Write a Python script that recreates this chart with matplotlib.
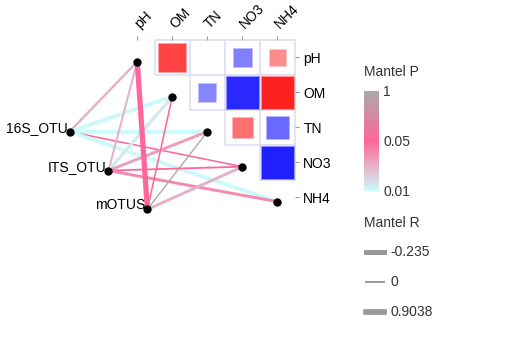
# -*- coding: utf-8 -*-
# Mantel test network + env. correlation heatmap

import numpy as np
import matplotlib as mpl
import matplotlib.pyplot as plt
from matplotlib.colors import LinearSegmentedColormap, TwoSlopeNorm, Normalize, to_rgb
from matplotlib.patches import Rectangle
from matplotlib.lines import Line2D

plt.rcParams['font.family'] = ['Liberation Sans', 'DejaVu Sans']

# données
nan = np.nan
env = ['pH', 'OM', 'TN', 'NO3', 'NH4']
species = ['16S_OTU', 'ITS_OTU', 'mOTUS']

# correlation between env factors (upper triangle)
env_r = np.array([
    [nan, 0.73, 0.02, -0.50, 0.45],
    [nan, nan, -0.47, -0.84, 0.87],
    [nan, nan, nan, 0.56, -0.58],
    [nan, nan, nan, nan, -0.87],
    [nan, nan, nan, nan, nan],
])

# Mantel R / P, rows = species, cols = env
mantel_r = np.array([
    [0.30, 0.60, 0.70, 0.10, 0.60],
    [0.20, 0.45, 0.40, 0.15, 0.40],
    [0.9038, 0.10, 0.05, 0.40, nan],
])
mantel_p = np.array([
    [0.03, 0.01, 0.01, 0.05, 0.01],
    [0.03, 0.015, 0.035, 0.05, 0.04],
    [0.05, 0.05, 0.9, 0.03, nan],
])

p_ticks = [0.01, 0.05, 1]
p_labels = ['0.01', '0.05', '1']
r_legend = ['-0.235', '0', '0.9038']

W, H = 520, 353
fig = plt.figure(figsize=(W / 100, H / 100), dpi=100)
ax = fig.add_axes([0, 0, 295 / W, (H - 40) / H])
ax.set_xlim(-3.914, 4.5)
ax.set_ylim(8.443, -0.5)
for s in ax.spines.values():
    s.set_visible(False)

# heatmap
r_cmap = plt.get_cmap('bwr')
r_norm = Normalize(-1, 1)
n = len(env)
for i in range(n):
    for j in range(i + 1, n):
        ax.add_patch(Rectangle((j - 0.5, i - 0.5), 1, 1, fc='white',
                               ec='#dcdcf8', lw=1.1, zorder=1, clip_on=False))
        r = env_r[i, j]
        side = min(0.96, abs(r) * 1.1)
        c = np.array(to_rgb(r_cmap(r_norm(r))))
        ax.add_patch(Rectangle((j - side / 2, i - side / 2), side, side,
                               fc=c, ec=(c + 1) / 2, lw=0.7, zorder=2))

# node layout
env_x = np.arange(n)
env_y = np.arange(n) + 0.12
k = np.arange(len(species))
sp_x = -1.93 + 1.11 * k
sp_y = 2.12 + 1.11 * k

# mantel edges
p_cmap = LinearSegmentedColormap.from_list('mantel_p', ['#ccfafa', '#ff6699', '#aaaaaa'])
p_norm = TwoSlopeNorm(vcenter=0.05, vmin=0.01, vmax=1)
for a in range(len(species)):
    for b in range(n):
        if np.isnan(mantel_r[a, b]):
            continue
        ax.plot([sp_x[a], env_x[b]], [sp_y[a], env_y[b]],
                color=p_cmap(p_norm(mantel_p[a, b])),
                lw=0.8 + 3.3 * abs(mantel_r[a, b]),
                solid_capstyle='butt', zorder=3)

ax.plot(env_x, env_y, 'o', color='black', ms=5, zorder=5)
ax.plot(sp_x, sp_y, 'o', color='black', ms=5, zorder=5)
for a, name in enumerate(species):
    ax.annotate(name, (sp_x[a], sp_y[a]), xytext=(-1.5, 0),
                textcoords='offset points', ha='right', va='baseline',
                fontsize=10, color='black')

# axis labels
ax.xaxis.tick_top()
ax.set_xticks(range(n))
ax.set_xticklabels(env, rotation=45, ha='left', va='center',
                   rotation_mode='anchor')
ax.yaxis.tick_right()
ax.set_yticks(range(n))
ax.set_yticklabels(env)
ax.tick_params(length=3, width=0.8, color='#999999', labelsize=10, pad=3)
ax.tick_params(axis='x', pad=7)

# Mantel P legend
fig.text(364 / W, 1 - 72 / H, 'Mantel P', fontsize=10, color='#333333', va='center')
cax = fig.add_axes([364 / W, (H - 191) / H, 15 / W, 100 / H])
cb = fig.colorbar(mpl.cm.ScalarMappable(norm=p_norm, cmap=p_cmap), cax=cax, ticks=p_ticks)
cb.set_ticklabels(p_labels)
cb.outline.set_visible(False)
cax.tick_params(length=0, pad=3, labelsize=10, labelcolor='#333333')

# Mantel R legend
handles = [Line2D([], [], color='#999999', lw=w) for w in [3.6, 1.4, 4.1]]
leg = fig.legend(handles, r_legend, title='Mantel R', loc='upper left',
                 bbox_to_anchor=(353 / W, 1 - 203 / H), frameon=False,
                 fontsize=10, title_fontsize=10, handlelength=1.3,
                 handletextpad=0.5, labelspacing=1.15, alignment='left',
                 labelcolor='#333333')
leg.get_title().set_color('#333333')
leg.get_title().set_position((-2, 0))

fig.savefig('out.png', dpi=100)
